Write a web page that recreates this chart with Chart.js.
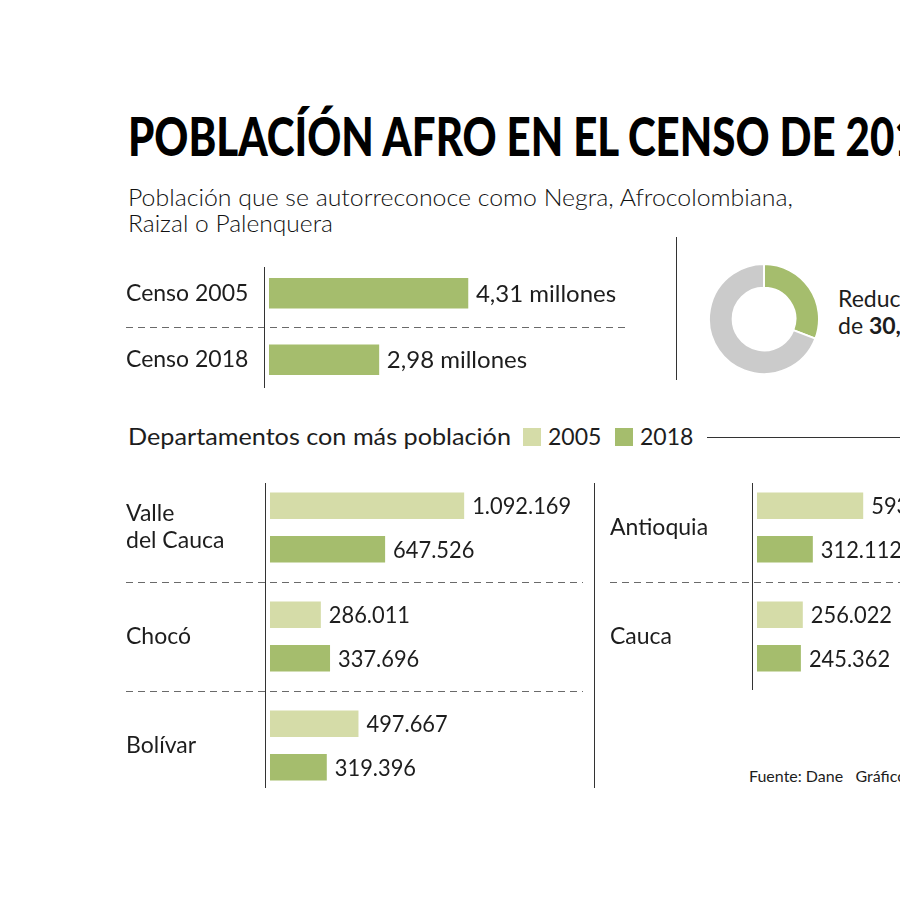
<!DOCTYPE html>
<html lang="es">
<head>
<meta charset="utf-8">
<title>Población afro en el censo de 2018</title>
<script src="https://cdn.jsdelivr.net/npm/chart.js@4.4.1/dist/chart.umd.min.js"></script>
<style>
  html, body { margin: 0; padding: 0; }
  body { width: 900px; height: 900px; overflow: hidden; position: relative; background: #fff;
         font-family: Lato, "Open Sans", sans-serif; color: #1d1d1d; }
  .abs { position: absolute; white-space: nowrap; }
  .fit { display: inline-block; transform-origin: 0 0; }
  canvas { position: absolute; }
  #title { left: 128px; top: 109px; font-size: 54px; line-height: 54px; font-weight: 900; color: #000; }
  .sub { left: 128px; font-size: 23px; line-height: 23px; font-weight: 300; color: #111; }
  #head { left: 128px; top: 425px; font-size: 23px; line-height: 23px; }
  .key { top: 425px; font-size: 23px; line-height: 23px; }
  .key i { position: absolute; left: -25px; top: 3px; width: 18px; height: 18px; }
  .donut-txt { left: 838px; font-size: 23px; line-height: 23px; }
  #source { left: 749px; top: 768px; font-size: 16px; line-height: 16px; }
  .rule { position: absolute; background: #333; }
</style>
</head>
<body>

<div id="title" class="abs"><span class="fit" data-w="815">POBLACÍÓN AFRO EN EL CENSO DE 2018</span></div>
<div class="abs sub" style="top:186px"><span class="fit" data-w="665">Población que se autorreconoce como Negra, Afrocolombiana,</span></div>
<div class="abs sub" style="top:212px"><span class="fit" data-w="205">Raizal o Palenquera</span></div>

<canvas id="census" width="500" height="133" style="left:126px; top:260px"></canvas>
<div class="rule" style="left:676px; top:237px; width:1px; height:143px"></div>
<canvas id="donut" width="112" height="112" style="left:708px; top:263px"></canvas>
<div class="abs donut-txt" style="top:287px">Reducción</div>
<div class="abs donut-txt" style="top:314px">de <b>30,8%</b></div>

<div id="head" class="abs"><span class="fit" data-w="383">Departamentos con más población</span></div>
<div id="keys"></div>
<div class="rule" style="left:707px; top:437px; width:200px; height:1px"></div>

<canvas id="deptLeft" width="464" height="327" style="left:126px; top:473px"></canvas>
<div class="rule" style="left:594px; top:483px; width:1px; height:305px"></div>
<canvas id="deptRight" width="469" height="218" style="left:610px; top:473px"></canvas>

<div id="source" class="abs">Fuente: Dane&nbsp;&nbsp;&nbsp;Gráfico: LR-GR</div>

<script>
// data
const censusLabels = ['Censo 2005', 'Censo 2018'];
const censusMillions = [4.31, 2.98];
const reductionSlices = [30.8, 69.2];
const seriesYears = ['2005', '2018'];
const leftDepts = [['Valle', 'del Cauca'], 'Chocó', 'Bolívar'];
const left2005 = [1092169, 286011, 497667];
const left2018 = [647526, 337696, 319396];
const rightDepts = ['Antioquia', 'Cauca'];
const right2005 = [593726, 256022];
const right2018 = [312112, 245362];

const GREEN = '#a5bd6d';
const LIGHT = '#d5dca8';
const GREY = '#cbcbcb';
const INK = '#1d1d1d';
const FONT = 'Lato, "Open Sans", sans-serif';

const thousands = v => String(v).replace(/\B(?=(\d{3})+(?!\d))/g, '.');
const millones = v => v.toFixed(2).replace('.', ',') + ' millones';

// value text at the end of each bar
function barLabels(format, size, squeeze) {
  return {
    id: 'barLabels',
    afterDatasetsDraw(chart) {
      const ctx = chart.ctx;
      chart.data.datasets.forEach((ds, i) => {
        chart.getDatasetMeta(i).data.forEach((bar, j) => {
          ctx.save();
          ctx.font = size + 'px ' + FONT;
          ctx.fillStyle = INK;
          ctx.textBaseline = 'middle';
          ctx.translate(bar.x + 8, bar.y + 1);
          ctx.scale(squeeze, 1);
          ctx.fillText(format(ds.data[j]), 0, 0);
          ctx.restore();
        });
      });
    }
  };
}

// dashed rows between categories + the vertical base line
function frame(axisTop, axisBottom, dashEnd) {
  return {
    id: 'frame',
    beforeDatasetsDraw(chart) {
      const {ctx, chartArea} = chart;
      const y = chart.scales.y;
      ctx.save();
      ctx.strokeStyle = '#6a6a6a';
      ctx.lineWidth = 1;
      ctx.setLineDash([7, 5]);
      for (let i = 0; i < y.ticks.length - 1; i++) {
        const py = Math.round((y.getPixelForTick(i) + y.getPixelForTick(i + 1)) / 2) + 0.5;
        ctx.beginPath();
        ctx.moveTo(0, py);
        ctx.lineTo(dashEnd || chart.width, py);
        ctx.stroke();
      }
      ctx.setLineDash([]);
      ctx.strokeStyle = '#333';
      const ax = Math.round(chartArea.left) - 4.5;
      ctx.beginPath();
      ctx.moveTo(ax, axisTop);
      ctx.lineTo(ax, axisBottom);
      ctx.stroke();
      ctx.restore();
    }
  };
}

function barOptions(axisWidth, min, max) {
  return {
    indexAxis: 'y',
    responsive: false,
    animation: false,
    layout: { padding: 0 },
    plugins: { legend: { display: false }, tooltip: { enabled: false } },
    scales: {
      x: { display: false, min: min, max: max },
      y: {
        afterFit(scale) {
          scale.width = axisWidth;
          scale.paddingTop = 0;
          scale.paddingBottom = 0;
        },
        grid: { display: false, drawTicks: false },
        border: { display: false },
        ticks: { crossAlign: 'far', padding: 0, color: INK,
                 font: { family: FONT, size: 23, lineHeight: 1.17 } }
      }
    }
  };
}

new Chart(document.getElementById('census'), {
  type: 'bar',
  data: {
    labels: censusLabels,
    datasets: [{ data: censusMillions, backgroundColor: GREEN, borderWidth: 0, barThickness: 30 }]
  },
  options: barOptions(143, 1.34, 6.67),
  plugins: [frame(7, 128, 500), barLabels(millones, 24, 1)]
});

new Chart(document.getElementById('donut'), {
  type: 'doughnut',
  data: {
    labels: ['Reducción', 'Resto'],
    datasets: [{ data: reductionSlices, backgroundColor: [GREEN, GREY],
                 borderColor: '#fff', borderWidth: 2 }]
  },
  options: {
    responsive: false, animation: false, cutout: '57%',
    plugins: { legend: { display: false }, tooltip: { enabled: false } }
  }
});

const axisWidthFor = { deptLeft: 144, deptRight: 147 };
function deptChart(id, labels, v2005, v2018, axisBottom, dashEnd) {
  return new Chart(document.getElementById(id), {
    type: 'bar',
    data: {
      labels: labels,
      datasets: [
        { label: seriesYears[0], data: v2005, backgroundColor: LIGHT, borderWidth: 0,
          categoryPercentage: 0.8, barPercentage: 0.61 },
        { label: seriesYears[1], data: v2018, backgroundColor: GREEN, borderWidth: 0,
          categoryPercentage: 0.8, barPercentage: 0.61 }
      ]
    },
    options: barOptions(axisWidthFor[id], 0, 1800000),
    plugins: [frame(10, axisBottom, dashEnd), barLabels(thousands, 23, 0.95)]
  });
}
const left = deptChart('deptLeft', leftDepts, left2005, left2018, 315, 457);
deptChart('deptRight', rightDepts, right2005, right2018, 217, 0);

// legend from the datasets
const keys = document.getElementById('keys');
const keyLeft = [548, 640];
left.data.datasets.forEach((ds, i) => {
  const el = document.createElement('div');
  el.className = 'abs key';
  el.style.left = keyLeft[i] + 'px';
  el.innerHTML = '<i style="background:' + ds.backgroundColor + '"></i>' + ds.label;
  keys.appendChild(el);
});

// squeeze text to the condensed widths of the original
document.querySelectorAll('[data-w]').forEach(el => {
  const w = el.getBoundingClientRect().width;
  el.style.transform = 'scaleX(' + (+el.dataset.w / w).toFixed(4) + ')';
});
</script>
</body>
</html>
